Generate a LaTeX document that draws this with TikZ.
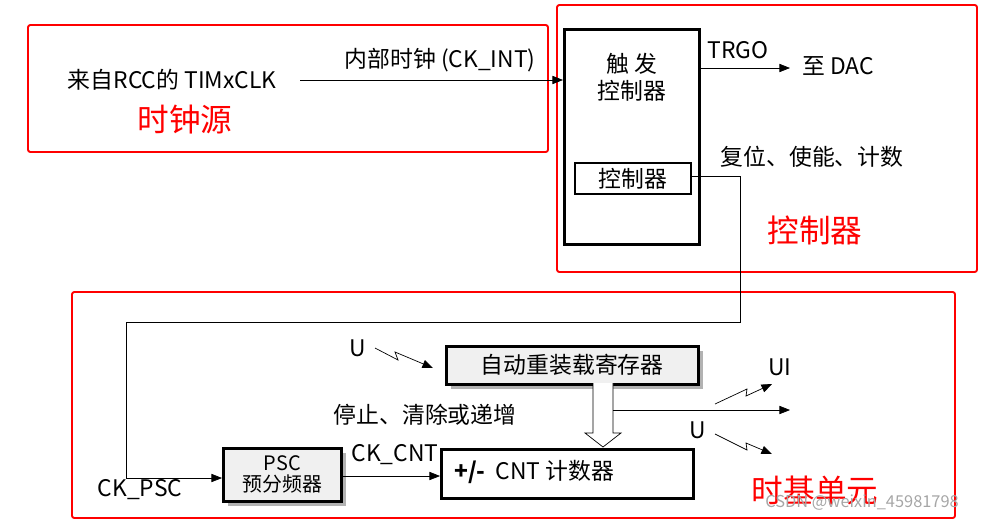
\documentclass[tikz,border=0pt]{standalone}
\usepackage{fontspec}
\setmainfont{Noto Sans CJK SC}
\usetikzlibrary{arrows.meta}
\begin{document}
\begin{tikzpicture}[x=0.03cm,y=-0.03cm,
 redbox/.style={draw=red,line width=1.6pt,rounded corners=2pt},
 blk/.style={draw,line width=2.2pt},
 wire/.style={line width=0.6pt},
 arr/.style={wire,-{Triangle[length=9pt,width=7pt]}},
 lbl/.style={font=\fontsize{19.5}{23}\selectfont},
 rlbl/.style={text=red,font=\fontsize{27}{29}\selectfont}]
\useasboundingbox (0,0) rectangle (993,522);
% red regions
\draw[redbox] (28,25) rectangle (548,152);
\draw[redbox] (557,5) rectangle (977,272);
\draw[redbox] (72,292) rectangle (955,518);
% trigger controller
\node[blk,minimum width=135*0.03cm,minimum height=215*0.03cm,anchor=north west,inner sep=0] (trig) at (563,28) {};
\node[lbl,align=center] (trigt) at (632,77) {触 发\\控制器};
\node[blk,line width=1.8pt,minimum width=116*0.03cm,minimum height=31*0.03cm,anchor=north west,inner sep=0] (ctl) at (574,162) {};
\node[lbl] (ctlt) at (ctl) {控制器};
% clock source
\node[lbl] (src) at (172,80) {来自RCC的 TIMxCLK};
\coordinate (srcend) at (300,80);
\draw[arr] (srcend) -- (trig.west |- srcend);
\node[lbl] (ckint) at (440,60) {内部时钟 (CK\_INT)};
\node[rlbl] (r1) at (185,120) {时钟源};
% TRGO
\coordinate (trgo0) at (698,68);
\coordinate (trgo1) at (790,68);
\draw[arr] (trgo0) -- (trgo1);
\node[lbl] (trgot) at (738,50) {TRGO};
\node[lbl,anchor=west] (dac) at (798,66) {至 DAC};
\node[lbl] (rst) at (812,157) {复位、使能、计数};
\node[rlbl] (r2) at (815,230) {控制器};
% time base
\fill[gray!60] (451,351) rectangle (703,389);
\node[blk,fill=gray!12,minimum width=252*0.03cm,minimum height=38*0.03cm,anchor=north west,inner sep=0] (arrb) at (445,345) {};
\node[lbl] (arrt) at (arrb) {自动重装载寄存器};
\fill[gray!60] (228,453) rectangle (346,506);
\node[blk,fill=gray!12,minimum width=118*0.03cm,minimum height=53*0.03cm,anchor=north west,inner sep=0] (psc) at (222,447) {};
\node[lbl,align=center,font=\fontsize{17}{18}\selectfont] (psct) at (psc) {PSC\\预分频器};
\node[blk,minimum width=252*0.03cm,minimum height=49*0.03cm,anchor=north west,inner sep=0] (cnt) at (440,448) {};
\node[lbl,anchor=west] (cntt) at (450,472) {\textbf{+/-}\ \ CNT 计数器};
% control wire
\coordinate (w1) at (740,176);
\coordinate (w2) at (740,322);
\coordinate (w3) at (126,322);
\coordinate (w4) at (126,478);
\draw[wire] (ctl.east |- w1) -- (w1) -- (w2) -- (w3) -- (w4);
\draw[arr] (w4) -- (psc.west |- w4);
\node[lbl] (ckpsc) at (140,490) {CK\_PSC};
\draw[arr] (psc.east |- 0,476) -- (cnt.west |- 0,476);
\node[lbl] (ckcnt) at (395,455) {CK\_CNT};
\node[lbl] (stop) at (425,415) {停止、清除或递增};
% hollow double arrow
\draw[wire,fill=white] (593,383) -- (593,433) -- (585,433) -- (603,447) -- (621,433) -- (613,433) -- (613,383);
\coordinate (o0) at (613,410);
\coordinate (o1) at (790,410);
\draw[arr] (o0) -- (o1);
% lightnings
\draw[arr] (375,348) -- (398,360) -- (395,352) -- (433,368);
\node[lbl] (u1) at (358,348) {U};
\draw[arr] (715,404) -- (747,389) -- (746,396) -- (772,384);
\node[lbl] (ui) at (780,367) {UI};
\draw[arr] (715,434) -- (747,450) -- (746,443) -- (772,454);
\node[lbl] (u2) at (698,430) {U};
\node[rlbl] (r3) at (815,490) {时基单元};
\node[text=gray!70,font=\fontsize{14}{15}\selectfont] (wm) at (862,503) {CSDN @weixin\_45981798};
\end{tikzpicture}
\end{document}
